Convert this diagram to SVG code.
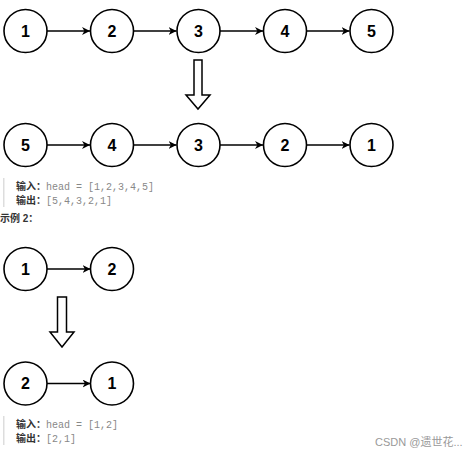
<svg xmlns="http://www.w3.org/2000/svg" width="474" height="449" viewBox="0 0 474 449">
<style>
.node circle{fill:#fff;stroke:#000;stroke-width:1.6}
.node text{font-family:"Liberation Sans",Arial,sans-serif;font-weight:bold;font-size:16px;text-anchor:middle;dominant-baseline:central;fill:#000}
.edge{stroke:#000;stroke-width:1.3;fill:none;marker-end:url(#ah)}
.big{fill:#fff;stroke:#000;stroke-width:1.5}
.lab{font-family:"Liberation Sans","Noto Sans CJK SC",sans-serif;font-weight:bold;font-size:10px;fill:#333}
.code{font-family:"Liberation Mono","DejaVu Sans Mono",monospace;font-size:10px;fill:#888}
.bar{fill:#ddd}
</style>
<defs>
<marker id="ah" viewBox="0 0 10 10" refX="10" refY="5" markerWidth="8" markerHeight="8" markerUnits="userSpaceOnUse" orient="auto">
<path d="M0,0 L10,5 L0,10 L3,5 Z" fill="#000"/>
</marker>
</defs>
<g id="connectors">
<line class="edge" x1="47" y1="31" x2="90" y2="31"/>
<line class="edge" x1="133.5" y1="31" x2="176.5" y2="31"/>
<line class="edge" x1="220" y1="31" x2="263" y2="31"/>
<line class="edge" x1="306.5" y1="31" x2="349.5" y2="31"/>
<line class="edge" x1="47" y1="145" x2="90" y2="145"/>
<line class="edge" x1="133.5" y1="145" x2="176.5" y2="145"/>
<line class="edge" x1="220" y1="145" x2="263" y2="145"/>
<line class="edge" x1="306.5" y1="145" x2="349.5" y2="145"/>
<line class="edge" x1="47" y1="269" x2="90.5" y2="269"/>
<line class="edge" x1="47" y1="383.5" x2="90.5" y2="383.5"/>
</g>
<g id="arrow-down-1"><path class="big" d="M194,60 H202 V95 H210 L198,109 L186,95 H194 Z"/></g>
<g id="arrow-down-2"><path class="big" d="M57.5,297 H66.5 V332 H74 L62,347 L50,332 H57.5 Z"/></g>
<g id="a1" class="node"><circle cx="25.5" cy="31" r="21.5"/><text x="25.5" y="31">1</text></g>
<g id="a2" class="node"><circle cx="112" cy="31" r="21.5"/><text x="112" y="31">2</text></g>
<g id="a3" class="node"><circle cx="198.5" cy="31" r="21.5"/><text x="198.5" y="31">3</text></g>
<g id="a4" class="node"><circle cx="285" cy="31" r="21.5"/><text x="285" y="31">4</text></g>
<g id="a5" class="node"><circle cx="371.5" cy="31" r="21.5"/><text x="371.5" y="31">5</text></g>
<g id="b5" class="node"><circle cx="25.5" cy="145" r="21.5"/><text x="25.5" y="145">5</text></g>
<g id="b4" class="node"><circle cx="112" cy="145" r="21.5"/><text x="112" y="145">4</text></g>
<g id="b3" class="node"><circle cx="198.5" cy="145" r="21.5"/><text x="198.5" y="145">3</text></g>
<g id="b2" class="node"><circle cx="285" cy="145" r="21.5"/><text x="285" y="145">2</text></g>
<g id="b1" class="node"><circle cx="371.5" cy="145" r="21.5"/><text x="371.5" y="145">1</text></g>
<g id="c1" class="node"><circle cx="25.5" cy="269" r="21.5"/><text x="25.5" y="269">1</text></g>
<g id="c2" class="node"><circle cx="112" cy="269" r="21.5"/><text x="112" y="269">2</text></g>
<g id="d2" class="node"><circle cx="25.5" cy="383.5" r="21.5"/><text x="25.5" y="383.5">2</text></g>
<g id="d1" class="node"><circle cx="112" cy="383.5" r="21.5"/><text x="112" y="383.5">1</text></g>
<rect class="bar" x="3" y="178" width="1.5" height="29"/>
<text class="lab" x="16" y="189.5">输入：</text><text class="code" x="46" y="189.5">head = [1,2,3,4,5]</text>
<text class="lab" x="16" y="203.5">输出：</text><text class="code" x="46" y="203.5">[5,4,3,2,1]</text>
<text class="lab" x="0" y="222">示例 2：</text>
<rect class="bar" x="3" y="416" width="1.5" height="29"/>
<text class="lab" x="16" y="427.5">输入：</text><text class="code" x="46" y="427.5">head = [1,2]</text>
<text class="lab" x="16" y="441.5">输出：</text><text class="code" x="46" y="441.5">[2,1]</text>
<text x="375" y="446" style="font-family:'Liberation Sans','Noto Sans CJK SC',sans-serif;font-size:11px;fill:#999">CSDN @遗世花...</text>
</svg>
